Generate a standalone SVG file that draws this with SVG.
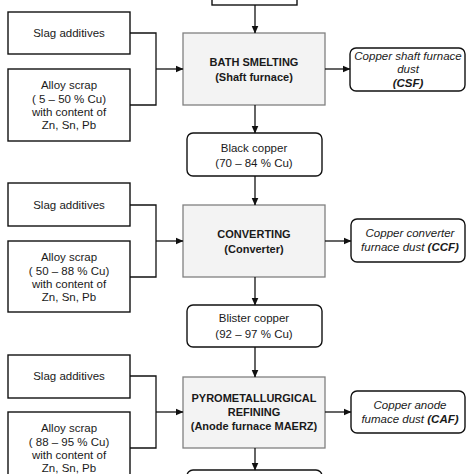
<svg xmlns="http://www.w3.org/2000/svg" width="474" height="474" viewBox="0 0 474 474">
<defs>
<marker id="ah" markerWidth="8" markerHeight="8" refX="7.5" refY="4" orient="auto" markerUnits="userSpaceOnUse">
<path d="M0,0.5 L8,4 L0,7.5 Z" fill="#111"/>
</marker>
</defs>
<style>
.in{fill:#fff;stroke:#111;stroke-width:1.4}
.pr{fill:#f3f3f3;stroke:#808080;stroke-width:1.3}
.rd{fill:#fff;stroke:#111;stroke-width:1.4}
.t{font-family:"Liberation Sans",Arial,sans-serif;font-size:11.5px;fill:#1a1a1a;text-anchor:middle}
.b{font-weight:bold;font-size:11px}
.i{font-style:italic}
.c{fill:none;stroke:#111;stroke-width:1.3}
</style>
<rect width="474" height="474" fill="#fff"/>

<g id="top-box"><rect class="in" x="212" y="-10" width="85" height="15"/></g>

<g id="slag1"><rect class="in" x="8" y="12" width="122" height="42"/><text class="t" x="69" y="37">Slag additives</text></g>
<g id="alloy1"><rect class="in" x="8" y="69" width="122" height="72"/>
<text class="t" x="69" y="89">Alloy scrap</text><text class="t" x="69" y="103">( 5 – 50 % Cu)</text><text class="t" x="69" y="116">with content of</text><text class="t" x="69" y="129">Zn, Sn, Pb</text></g>
<g id="bath-smelting"><rect class="pr" x="183" y="33" width="142" height="72"/>
<text class="t b" x="254" y="66">BATH SMELTING</text><text class="t b" x="254" y="81">(Shaft furnace)</text></g>
<g id="csf"><rect class="rd" x="350" y="48" width="115" height="43" rx="6"/>
<text class="t i" x="408" y="60">Copper shaft furnace</text><text class="t i" x="408" y="73">dust</text><text class="t i" x="408" y="87" font-weight="bold">(CSF)</text></g>
<g id="black-copper"><rect class="rd" x="187" y="133" width="135" height="43" rx="6"/>
<text class="t" x="254" y="152">Black copper</text><text class="t" x="254" y="167">(70 – 84 % Cu)</text></g>

<g id="slag2"><rect class="in" x="8" y="183" width="122" height="43"/><text class="t" x="69" y="209">Slag additives</text></g>
<g id="alloy2"><rect class="in" x="8" y="241" width="122" height="71"/>
<text class="t" x="69" y="261">Alloy scrap</text><text class="t" x="69" y="275">( 50 – 88 % Cu)</text><text class="t" x="69" y="288">with content of</text><text class="t" x="69" y="301">Zn, Sn, Pb</text></g>
<g id="converting"><rect class="pr" x="183" y="205" width="142" height="72"/>
<text class="t b" x="254" y="238">CONVERTING</text><text class="t b" x="254" y="253">(Converter)</text></g>
<g id="ccf"><rect class="rd" x="351" y="219" width="114" height="43" rx="6"/>
<text class="t i" x="410" y="237">Copper converter</text><text class="t i" x="410" y="251">furnace dust <tspan font-weight="bold">(CCF)</tspan></text></g>
<g id="blister-copper"><rect class="rd" x="187" y="305" width="135" height="42" rx="6"/>
<text class="t" x="254" y="322">Blister copper</text><text class="t" x="254" y="338">(92 – 97 % Cu)</text></g>

<g id="slag3"><rect class="in" x="8" y="355" width="122" height="43"/><text class="t" x="69" y="380">Slag additives</text></g>
<g id="alloy3"><rect class="in" x="8" y="412" width="122" height="72"/>
<text class="t" x="69" y="432">Alloy scrap</text><text class="t" x="69" y="446">( 88 – 95 % Cu)</text><text class="t" x="69" y="459">with content of</text><text class="t" x="69" y="472">Zn, Sn, Pb</text></g>
<g id="refining"><rect class="pr" x="183" y="377" width="142" height="71"/>
<text class="t b" x="254" y="402">PYROMETALLURGICAL</text><text class="t b" x="254" y="416">REFINING</text><text class="t b" x="254" y="430">(Anode furnace MAERZ)</text></g>
<g id="caf"><rect class="rd" x="351" y="391" width="114" height="42" rx="6"/>
<text class="t i" x="410" y="409">Copper anode</text><text class="t i" x="410" y="423">fumace dust <tspan font-weight="bold">(CAF)</tspan></text></g>
<g id="bottom-box"><rect class="rd" x="187" y="470" width="135" height="20" rx="6"/></g>

<g id="connectors">
<path class="c" d="M130,33 H156 V105 H130"/>
<path class="c" d="M156,69 H183" marker-end="url(#ah)"/>
<path class="c" d="M130,205 H156 V277 H130"/>
<path class="c" d="M156,241 H183" marker-end="url(#ah)"/>
<path class="c" d="M130,376 H156 V448 H130"/>
<path class="c" d="M156,412 H183" marker-end="url(#ah)"/>
<path class="c" d="M255,5 V33" marker-end="url(#ah)"/>
<path class="c" d="M255,105 V133" marker-end="url(#ah)"/>
<path class="c" d="M255,176 V205" marker-end="url(#ah)"/>
<path class="c" d="M255,277 V305" marker-end="url(#ah)"/>
<path class="c" d="M255,347 V377" marker-end="url(#ah)"/>
<path class="c" d="M255,448 V470" marker-end="url(#ah)"/>
<path class="c" d="M325,69 H350" marker-end="url(#ah)"/>
<path class="c" d="M325,241 H351" marker-end="url(#ah)"/>
<path class="c" d="M325,412 H351" marker-end="url(#ah)"/>
</g>
</svg>
